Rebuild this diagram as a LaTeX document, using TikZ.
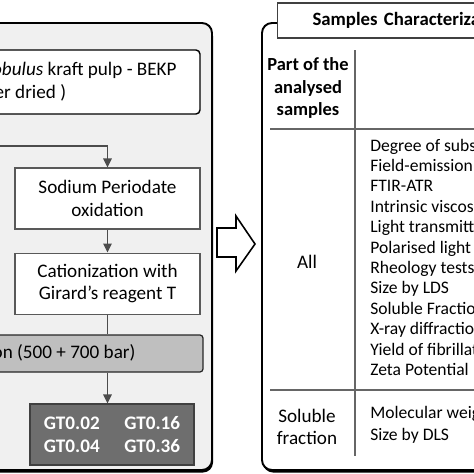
\documentclass[tikz,border=0pt]{standalone}
\usepackage{fontspec}
\setmainfont{Carlito}
\usetikzlibrary{arrows.meta, positioning}

\begin{document}
\begin{tikzpicture}[
    x=0.02cm, y=-0.02cm,
    every node/.style={font=\fontsize{10.9}{13}\selectfont},
    panel/.style={draw=black, line width=1.1pt, rounded corners=0.2cm},
    stepbox/.style={rectangle, draw=black!65, fill=white, line width=0.6pt,
                    minimum width=3.7cm, minimum height=1.22cm, align=center},
    gtbox/.style={rectangle, draw=black!75, fill=black!57, line width=0.6pt,
                  minimum width=3.28cm, minimum height=1.22cm, align=center,
                  text=white, font=\bfseries\fontsize{10.9}{13.6}\selectfont},
    header/.style={rectangle, draw=black!75, fill=white, line width=0.6pt,
                   text width=4.6cm, inner xsep=0.7cm, minimum height=0.7cm,
                   align=left, font=\bfseries\fontsize{10.7}{12}\selectfont},
    colhead/.style={align=center, font=\bfseries\fontsize{10.5}{13}\selectfont},
    item/.style={anchor=base west, inner sep=0pt, font=\fontsize{10}{12}\selectfont},
    rule/.style={draw=black!60, line width=0.6pt},
    arrow/.style={-{Triangle[width=0.17cm, length=0.18cm]}, draw=black!70, line width=0.6pt}
]
    \useasboundingbox (0,0) rectangle (474,474);
    \clip (0,0) rectangle (474,474);

    % panels with shadow
    \fill[black, rounded corners=0.2cm] (-30,26) rectangle (213,472.5);
    \filldraw[panel, fill=black!6] (-30,23) rectangle (212,470);
    \fill[black, rounded corners=0.2cm] (263,26) rectangle (520,472.5);
    \filldraw[panel, fill=white] (262,23) rectangle (520,470);

    % process
    \node[rectangle, draw=black, line width=0.8pt, rounded corners=0.08cm, fill=white,
          minimum width=6.66cm, minimum height=1.28cm, align=center] (pulp) at (33.5,82)
          {\textit{Eucalyptus globulus} kraft pulp - BEKP\\(never dried )\hspace*{0.8cm}};
    \node[stepbox] (perio) at (107.5,198.5) {Sodium Periodate\\oxidation};
    \node[stepbox, below=0.46cm of perio] (cation) {Cationization with\\Girard's reagent T};
    \node[rectangle, draw=black!85, fill=black!25, line width=0.7pt, rounded corners=0.06cm,
          minimum width=7.7cm, minimum height=0.74cm] (homog) at (10.5,353.5)
          {Homogenization (500 + 700 bar)};
    \node[gtbox] (gt) at (112,434.5) {GT0.02\hspace{14pt}GT0.16\\GT0.04\hspace{14pt}GT0.36};

    \coordinate (feed) at (-5,146);
    \draw[arrow] (feed) -| (perio.north);
    \draw[arrow] (perio) -- (cation);
    \draw[draw=black!70, line width=0.6pt] (cation.south) -- (cation.south |- homog.north);
    \draw[arrow] (cation.south |- homog.south) -- (cation.south |- gt.north);

    % hollow arrow
    \draw[line width=0.9pt, fill=white] (217,228) -- (236,228) -- (236,216) -- (255,244)
        -- (236,271) -- (236,257) -- (217,257) -- cycle;

    % characterization table
    \node[header, anchor=west] (head) at (277,20.5) {Samples Characterization};
    \draw[rule] (355,50) -- (355,456);
    \draw[rule] (270,129) -- (480,129);
    \draw[rule] (270,390) -- (480,390);

    \node[colhead] (part) at (308,88) {Part of the\\analysed\\samples};
    \node (all) at (307,262) {All};
    \node[align=center, font=\fontsize{10.9}{12.5}\selectfont] (sol) at (307,427) {Soluble\\fraction};

    \foreach \txt [count=\i from 0] in {Degree of substitution, Field-emission SEM, FTIR-ATR,
        Intrinsic viscosity, Light transmittance, Polarised light microscopy, Rheology tests,
        Size by LDS, Soluble Fraction, X-ray diffraction, Yield of fibrillation, Zeta Potential}
        \node[item] (it\i) at (370,151+20.4*\i) {\txt};

    \node[item] (mw) at (370,418) {Molecular weight};
    \node[item] (dls) at (370,440) {Size by DLS};
\end{tikzpicture}
\end{document}
